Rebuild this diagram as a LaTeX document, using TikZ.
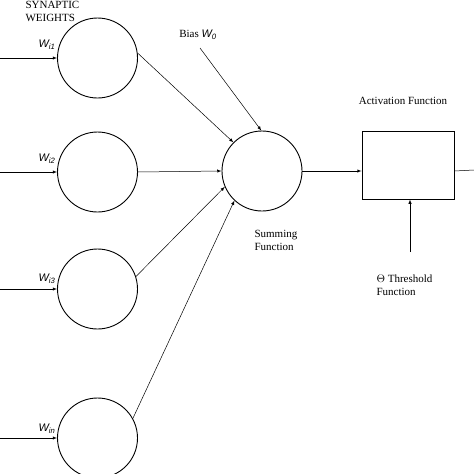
\documentclass[tikz,border=0pt]{standalone}
\usepackage{fontspec}
\setmainfont{Liberation Serif}
\newfontfamily\wfont{Liberation Sans}
\usepackage{tikz}
\newcommand{\wlab}[1]{{\wfont\itshape W\textsubscript{#1}}}

\begin{document}
\begin{tikzpicture}[x=1pt,y=-1pt,
    neuron/.style={draw,circle,line width=0.9pt,minimum size=80pt,inner sep=0pt},
    actbox/.style={draw,rectangle,line width=0.9pt,minimum width=92pt,minimum height=68pt},
    conn/.style={line width=0.5pt,-latex},
    every node/.style={font=\fontsize{11}{13}\selectfont}]
            \useasboundingbox (0,0) rectangle (474,474);
            \node[neuron] (c1) at (97.5,58) {};
            \node[neuron] (c2) at (97.5,172) {};
            \node[neuron] (c3) at (97.5,289) {};
            \node[neuron] (c4) at (97.5,438) {};
            \node[neuron] (sum) at (262,171) {};
            \node[actbox] (act) at (408,165) {};
            \coordinate (in1) at (0,58);
            \coordinate (in2) at (0,172);
            \coordinate (in3) at (0,289);
            \coordinate (in4) at (0,438);
            \coordinate (bias) at (200,48);
            \coordinate (thr) at (410,252);
            \coordinate (out) at (474,170);
            \draw[conn] (in1)--(c1.west);
            \draw[conn] (in2)--(c2.west);
            \draw[conn] (in3)--(c3.west);
            \draw[conn] (in4)--(c4.west);
            \draw[conn] (c1.7)--(sum.135);
            \draw[conn] (c2.east)--(sum.west);
            \draw[conn] (c3.18)--(sum.203);
            \draw[conn] (c4.29)--(sum.227);
            \draw[conn] (bias)--(sum.91);
            \draw[conn] (sum.east)--(sum.east -| act.west);
            \draw[line width=0.5pt] (act.east |- sum.east)--(out);
            \draw[conn] (thr)--(thr |- act.south);
            \node[align=left,anchor=west] (syn) at (22,11) {SYNAPTIC\\WEIGHTS};
            \node (w1) at (47,45) {\wlab{i1}};
            \node (w2) at (47,159) {\wlab{i2}};
            \node (w3) at (47,279) {\wlab{i3}};
            \node (w4) at (47,429) {\wlab{in}};
            \node (biaslab) at (198,35) {Bias \wlab{0}};
            \node (actlab) at (403,101) {Activation Function};
            \node[align=left,anchor=west] (sumlab) at (251,240) {Summing\\Function};
            \node[align=left,anchor=west] (thrlab) at (373,285) {$\Theta$ Threshold\\Function};
          \end{tikzpicture}
\end{document}
